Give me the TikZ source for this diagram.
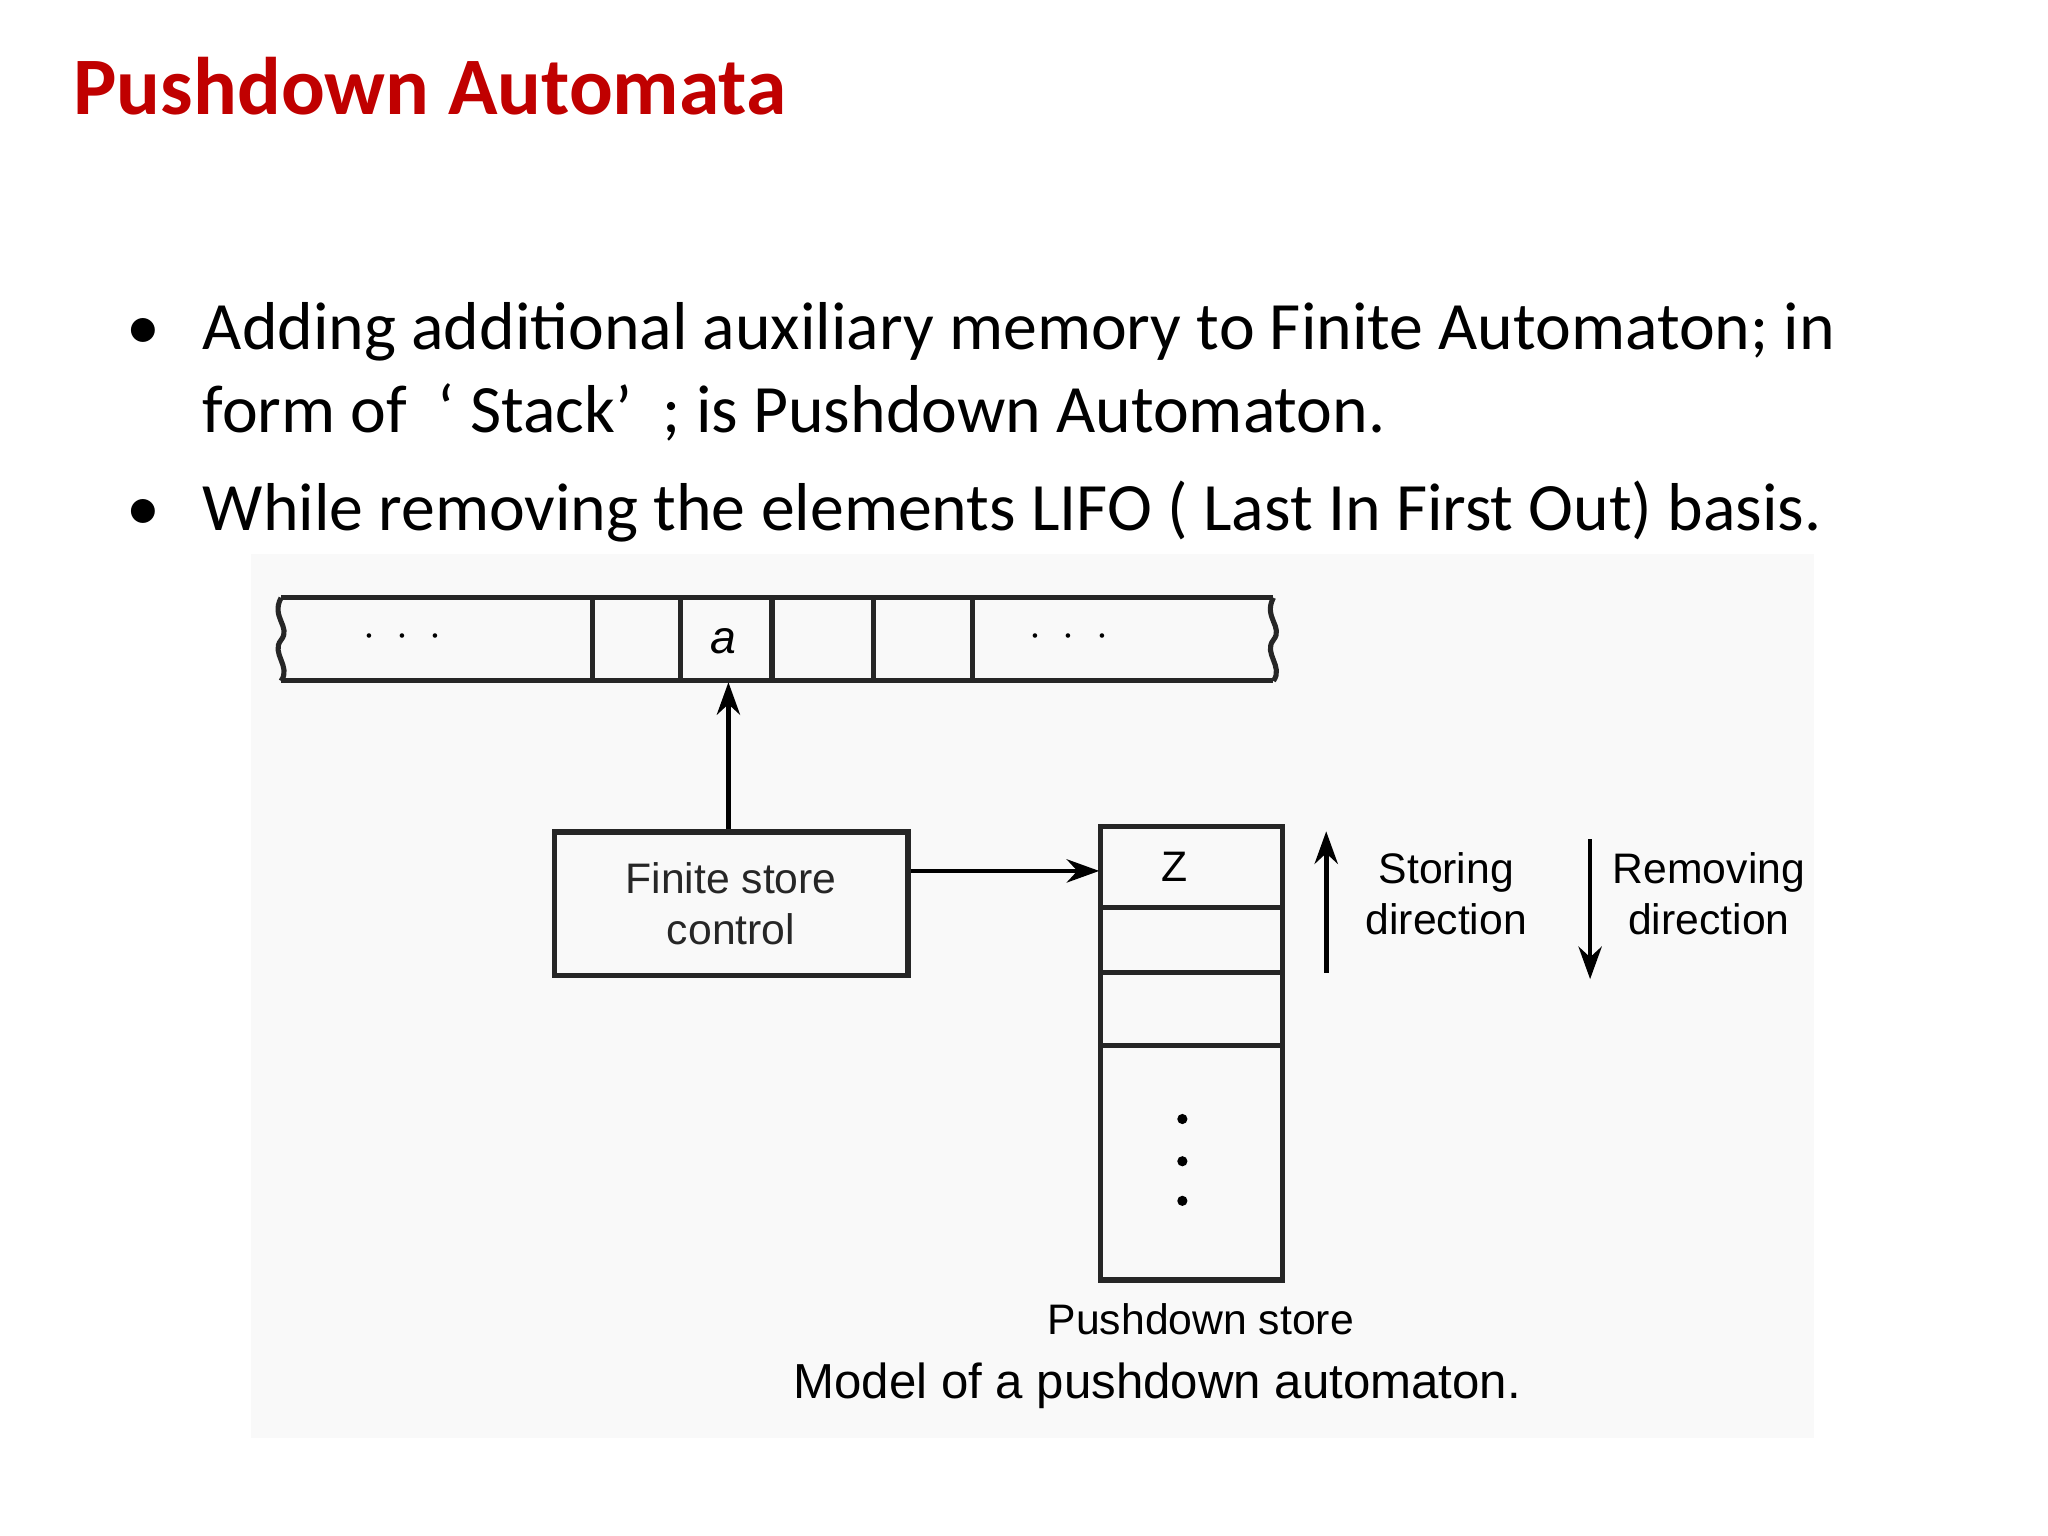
\documentclass[tikz,border=0pt]{standalone}
\usepackage{fontspec}
\setmainfont{Carlito}
\newfontfamily\diag{Liberation Sans}
\usetikzlibrary{arrows.meta}
\begin{document}
\begin{tikzpicture}[x=0.01cm,y=-0.01cm,
  line/.style={line width=1.1pt,black!85},
  arr/.style={line width=1pt,-{Stealth[length=7pt,width=5pt]}},
  lbl/.style={font=\diag\fontsize{9.2}{11}\selectfont,align=center,inner sep=0pt},
  bul/.style={font=\fontsize{14.6}{17}\selectfont,anchor=base west,inner sep=0pt}]
\useasboundingbox (0,0) rectangle (1552,1164);
\fill[white] (0,0) rectangle (1552,1164);
\fill[black!2.5] (190,420) rectangle (1375,1090);
\node[anchor=base west,inner sep=0pt,text={rgb,255:red,192;green,0;blue,0},font=\bfseries\fontsize{17.6}{21}\selectfont] (title) at (55,87) {Pushdown Automata};
\node[bul] (b1) at (95,265) {•};
\node[bul] (t1) at (153,265) {Adding additional auxiliary memory to Finite Automaton; in};
\node[bul] (t1b) at (153,328) {form of \ ‘ Stack’ \ ; is Pushdown Automaton.};
\node[bul] (b2) at (95,402) {•};
\node[bul] (t2) at (153,402) {While removing the elements LIFO ( Last In First Out) basis.};
% tape
\draw[line] (213,453) -- (965,453);
\draw[line] (213,516) -- (965,516);
\draw[line] (213,453) .. controls (205,468) and (221,475) .. (213,485) .. controls (205,495) and (221,505) .. (213,516);
\draw[line] (965,453) .. controls (957,468) and (973,475) .. (965,485) .. controls (957,495) and (973,505) .. (965,516);
\foreach \x in {449,516,585,662,737} \draw[line] (\x,453) -- (\x,516);
\node[lbl] (d1) at (305,483) {$\cdot\;\cdot\;\cdot$};
\node[lbl] (d2) at (810,483) {$\cdot\;\cdot\;\cdot$};
\node[lbl,font=\diag\itshape\fontsize{10}{12}\selectfont] (a) at (548,486) {a};
\coordinate (tapeb) at (552,517);
% control
\node[draw,line,minimum width=2.68cm,minimum height=1.09cm,lbl] (ctrl) at (554,685) {Finite store\\control};
\draw[arr] (ctrl.north -| tapeb) -- (tapeb);
% stack
\draw[line] (834,626) rectangle (972,970);
\foreach \y in {688,737,792} \draw[line] (834,\y) -- (972,\y);
\node[lbl] (Z) at (890,657) {Z};
\coordinate (stk) at (833,660);
\draw[arr] (ctrl.east |- stk) -- (stk);
\foreach \y in {848,880,910} \fill (896,\y) circle (1.1pt);
\coordinate (s1) at (1005,737); \coordinate (s2) at (1005,630);
\draw[arr] (s1) -- (s2);
\node[lbl] (st) at (1096,677) {Storing\\direction};
\coordinate (r1) at (1205,636); \coordinate (r2) at (1205,742);
\draw[arr] (r1) -- (r2);
\node[lbl] (rm) at (1295,677) {Removing\\direction};
\node[lbl] (ps) at (910,1000) {Pushdown store};
\node[lbl,font=\diag\fontsize{10.6}{13}\selectfont] (cap) at (877,1050) {Model of a pushdown automaton.};
\end{tikzpicture}
\end{document}
